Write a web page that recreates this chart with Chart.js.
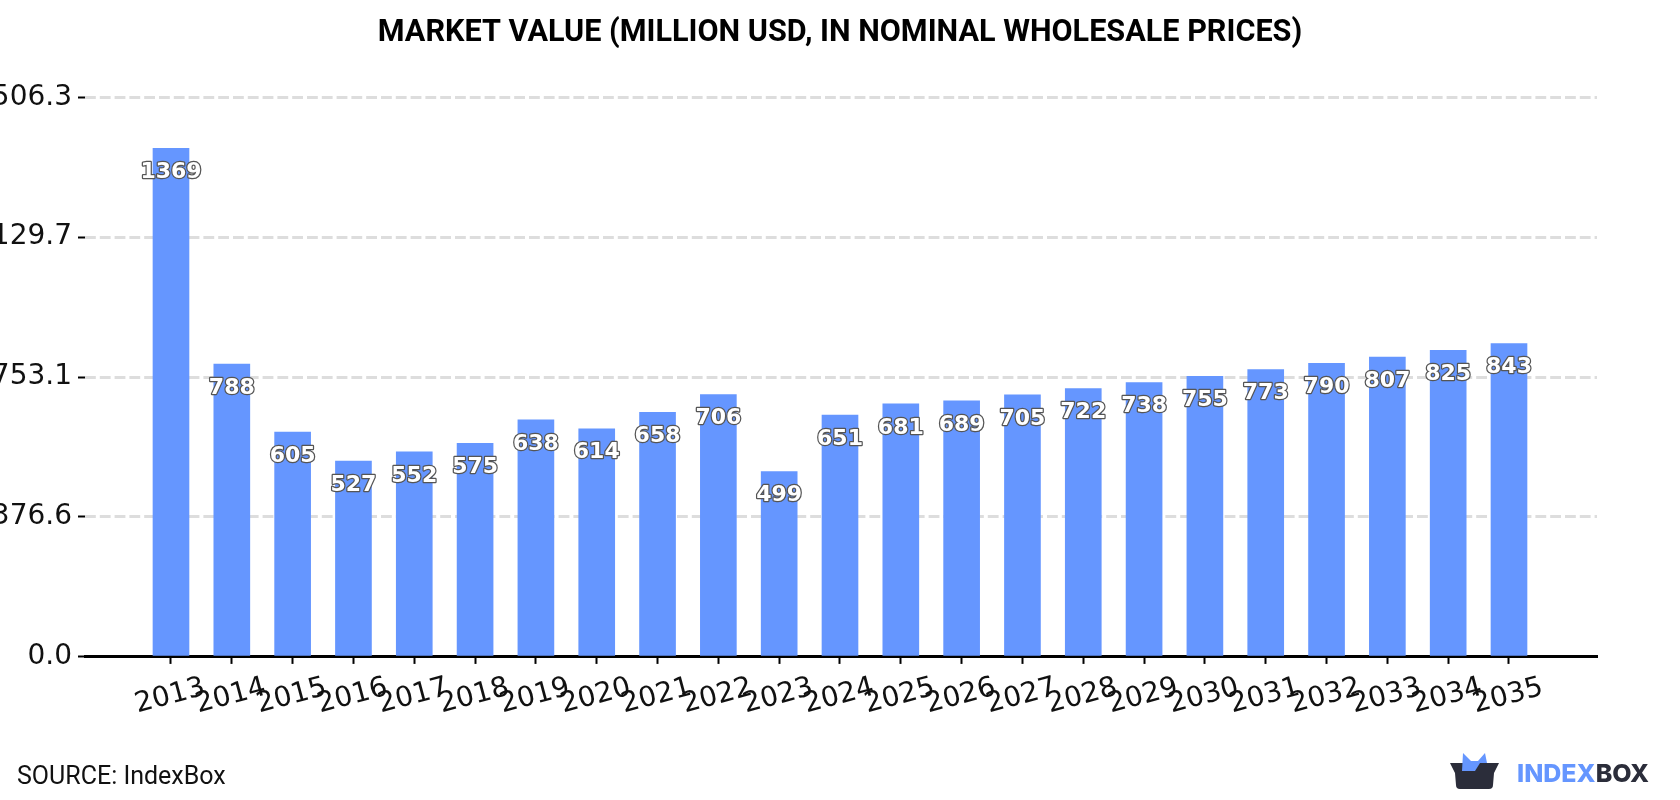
<!DOCTYPE html>
<html lang="en">
<head>
	<meta charset="UTF-8">
	<title>Market Value</title>
	<script src="https://cdn.jsdelivr.net/npm/chart.js"></script>
	<style>
		html, body {
			margin: 0;
			padding: 0;
			background-color: #fff;
			overflow: hidden;
		}

		#wrap {
			position: relative;
			width: 1680px;
			height: 800px;
		}

		#source {
			position: absolute;
			left: 17px;
			top: 761px;
			font: 25px Roboto, sans-serif;
			color: #111;
		}

		#logo {
			position: absolute;
			left: 1450px;
			top: 750px;
		}
	</style>
</head>
<body>
<div id="wrap">
	<canvas id="marketChart" width="1680" height="800"></canvas>
	<div id="source">SOURCE: IndexBox</div>
	<svg id="logo" width="210" height="44" viewBox="0 0 210 44">
		<path d="M0 13 L49 13 L44 23 L43 35 Q43 39 39 39 L10 39 Q6 39 6 35 L5 23 Z" fill="#2b2d3a"/>
		<path d="M12 21 L13 3 L21 11 L28 11 L35 3 L37 13 L30 13 L25 21 Z" fill="#6596ff"/>
		<text x="67" y="32" font-family="Inter, Roboto, sans-serif" font-weight="800" font-size="25" fill="#6596ff">INDEX<tspan fill="#2b2d3a">BOX</tspan></text>
	</svg>
</div>

<script>
	const years = [2013, 2014, 2015, 2016, 2017, 2018, 2019, 2020, 2021, 2022, 2023, 2024, 2025, 2026, 2027, 2028, 2029, 2030, 2031, 2032, 2033, 2034, 2035];
	const marketValues = [1369, 788, 605, 527, 552, 575, 638, 614, 658, 706, 499, 651, 681, 689, 705, 722, 738, 755, 773, 790, 807, 825, 843];
	const yTicks = [0, 376.6, 753.1, 1129.7, 1506.3];

	// value text sits just under the top of each bar, white with a dark outline
	const barLabels = {
		id: 'barLabels',
		afterDatasetsDraw(chart) {
			const ctx = chart.ctx;
			const bars = chart.getDatasetMeta(0).data;
			ctx.save();
			ctx.font = 'bold 22px "DejaVu Sans"';
			ctx.textAlign = 'center';
			ctx.textBaseline = 'middle';
			ctx.lineJoin = 'round';
			bars.forEach((bar, i) => {
				const label = String(marketValues[i]);
				ctx.lineWidth = 2.5;
				ctx.strokeStyle = '#555';
				ctx.strokeText(label, bar.x, bar.y + 24);
				ctx.fillStyle = '#fff';
				ctx.fillText(label, bar.x, bar.y + 24);
			});
			ctx.restore();
		}
	};

	new Chart(document.getElementById('marketChart'), {
		type: 'bar',
		data: {
			datasets: [{
				data: years.map((y, i) => ({ x: y, y: marketValues[i] })),
				backgroundColor: '#6596ff',
				barThickness: 36
			}]
		},
		options: {
			responsive: false,
			animation: false,
			layout: { padding: { top: 0, right: 0, bottom: 71.2, left: 0 } },
			plugins: {
				legend: { display: false },
				tooltip: { enabled: false },
				title: {
					display: true,
					text: 'MARKET VALUE (MILLION USD, IN NOMINAL WHOLESALE PRICES)',
					color: '#000',
					font: { family: 'Roboto', weight: 'bold', size: 30.6 },
					padding: { top: 15, bottom: 45.5 }
				}
			},
			scales: {
				x: {
					type: 'linear',
					offset: false,
					min: 2011.586,
					max: 2036.447,
					afterBuildTicks(scale) {
						scale.ticks = years.map(y => ({ value: y }));
					},
					grid: {
						offset: false,
						drawOnChartArea: false,
						tickLength: 7,
						tickWidth: 2,
						tickColor: '#000'
					},
					border: { color: '#000', width: 3 },
					ticks: {
						autoSkip: false,
						minRotation: 15,
						maxRotation: 15,
						labelOffset: 33.5,
						padding: 7,
						color: '#111',
						font: { family: 'DejaVu Sans', size: 28 },
						callback: value => String(value)
					}
				},
				y: {
					min: 0,
					max: 1506.3,
					afterBuildTicks(scale) {
						scale.ticks = yTicks.map(v => ({ value: v }));
					},
					afterFit(scale) {
						scale.width = 85;
					},
					grid: {
						color: ctx => ctx.tick && ctx.tick.value === 0 ? 'rgba(0,0,0,0)' : '#ddd',
						lineWidth: 3,
						tickColor: '#000',
						tickLength: 7,
						tickWidth: 2,
						tickBorderDash: []
					},
					border: { display: false, dash: [10.8, 4] },
					ticks: {
						padding: 6,
						color: '#111',
						font: { family: 'DejaVu Sans', size: 28 },
						callback: value => value.toFixed(1)
					}
				},
				// empty axis that holds the blank strip right of the plot, so the title stays centred on the page
				rightGap: {
					position: 'right',
					grid: { display: false },
					border: { display: false },
					ticks: { display: false },
					afterFit(scale) {
						scale.width = 83;
					}
				}
			}
		},
		plugins: [barLabels]
	});
</script>
</body>
</html>
